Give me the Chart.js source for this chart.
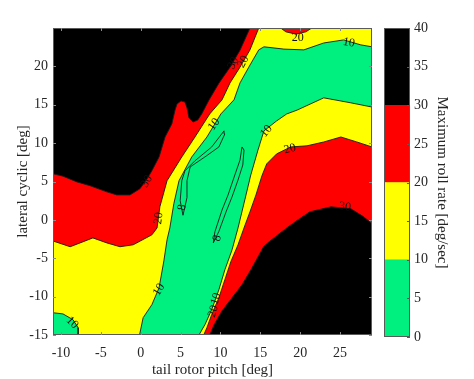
<!DOCTYPE html>
<html>
<head>
<meta charset="utf-8">
<script src="https://cdn.jsdelivr.net/npm/chart.js@4/dist/chart.umd.min.js"></script>
<style>
html, body { margin: 0; padding: 0; background: #fff; }
#wrap { position: relative; width: 474px; height: 379px; }
canvas { position: absolute; left: 0; top: 0; }
</style>
</head>
<body>
<div id="wrap">
  <canvas id="main" width="474" height="379"></canvas>
  <canvas id="cbar" width="474" height="379"></canvas>
</div>
<script>
// axis ticks
const xTicks = [-10, -5, 0, 5, 10, 15, 20, 25];
const yTicks = [-15, -10, -5, 0, 5, 10, 15, 20];
const cbTicks = [0, 5, 10, 15, 20, 25, 30, 35, 40];

// contour levels (deg/sec) and their fill colours
const levels = [0, 10, 20, 30, 40];
const levelColors = ['#00f080', '#ffff00', '#ff0000', '#000000'];

// contour lines, [tail rotor pitch, lateral cyclic]
const c30a = [[-11,6.0],[-9.75,5.7],[-8.0,4.95],[-6.35,4.45],[-4.25,3.65],[-3.0,3.25],[-1.35,3.25],[-0.1,4.05],[0.8,5.35],[1.4,6.4],[2.3,8.2],[3.05,10.8],[3.9,12.5],[4.3,14.3],[4.55,15.1],[5.05,15.5],[5.55,15.35],[5.8,14.6],[6.05,13.3],[6.55,12.75],[7.15,13.0],[7.65,13.8],[8.55,15.6],[9.8,17.8],[11.2,19.9],[12.45,22.1],[13.7,25]];
const c30b = [[29,-0.5],[27.95,0.4],[26.35,1.45],[23.85,1.7],[21.2,1.05],[19.7,0.0],[18.3,-1.05],[16.7,-2.35],[15.45,-3.4],[13.95,-6.25],[12.7,-8.45],[11.45,-10.15],[10.2,-11.85],[9.2,-13.65],[8.65,-15]];
const c20a = [[-11,-2.75],[-8.85,-3.5],[-7.6,-3.0],[-6.0,-2.35],[-4.25,-3.0],[-2.6,-3.5],[-0.95,-3.25],[1.4,-1.95],[2.05,-1.05],[2.4,1.7],[3.3,5.1],[5.15,8.2],[6.8,10.8],[8.65,13.8],[10.2,15.65],[11.2,17.85],[12.45,19.9],[13.7,22.15],[14.8,25]];
const c20c = [[17.55,25],[18.2,24.5],[19.45,24.2],[20.7,24.5],[21.45,25]];
const c20b = [[29,9.5],[27.1,10.15],[25.1,10.8],[22.95,10.15],[20.85,9.65],[18.8,9.5],[17.05,8.6],[15.8,7.3],[15.2,5.75],[14.45,3.25],[13.7,1.05],[12.95,-1.05],[12.2,-3.25],[11.3,-5.45],[10.55,-7.8],[9.8,-10.15],[8.9,-12.35],[8.3,-14.05],[7.9,-15]];
const c10a = [[-0.15,-15],[0.3,-12.75],[1.4,-11.05],[2.3,-8.85],[2.9,-5.35],[3.3,-2.6],[3.65,-1.05],[4.15,2.1],[4.8,5.1],[6.4,8.2],[8.3,10.8],[10.05,13.8],[11.7,15.65],[12.45,17.85],[13.55,19.9],[14.8,22.15],[15.45,22.55],[17.95,22.25],[20.45,22.15],[22.95,23.05],[25.45,23.45],[27.6,22.8],[29,22.55]];
const c10b = [[29,14.7],[26.35,15.25],[22.95,15.9],[19.6,14.3],[18.3,13.8],[17.05,12.9],[15.45,11.6],[14.7,9.1],[13.8,5.85],[13.05,2.6],[12.2,-1.05],[11.45,-3.9],[10.55,-6.5],[9.8,-9.1],[8.9,-11.7],[8.05,-13.65],[7.3,-15]];
const c10c = [[-11,-12.1],[-9.75,-12.25],[-8.5,-13.0],[-7.85,-14.05],[-7.85,-15]];
const loop8a = [[10.45,11.6],[8.9,9.5],[6.8,7.7],[5.55,6.4],[5.15,5.1],[4.95,2.5],[5.3,0.6],[5.8,2.9],[5.8,5.1],[6.2,6.9],[8.05,8.2],[9.8,9.5],[10.55,11.2],[10.45,11.6]];
const loop8b = [[12.7,9.5],[12.45,7.8],[11.8,5.85],[10.95,3.25],[10.2,1.3],[9.3,-1.55],[9.1,-3.0],[9.8,-1.5],[10.7,1.05],[11.45,3.0],[12.2,5.2],[12.8,7.15],[12.95,9.1],[12.7,9.5]];

// [text, x, y, rotation deg]
const contourLabels = [
  ['10', 26.1, 23.1, 10],
  ['20', 19.7, 23.75, 0],
  ['30', 11.6, 20.4, -62],
  ['20', 12.85, 20.6, -62],
  ['10', 9.2, 12.45, -55],
  ['20', 2.25, 0.2, -82],
  ['30', 0.75, 5.0, -60],
  ['8', 5.2, 1.6, -80],
  ['8', 9.6, -2.4, -75],
  ['10', 15.75, 11.55, -50],
  ['20', 18.7, 9.25, -15],
  ['30', 25.6, 1.7, 8],
  ['10', -8.6, -13.4, 45],
  ['10', 2.3, -9.1, -60],
  ['10', 9.45, -10.3, -72],
  ['20', 9.1, -11.9, -72]
];

const serif = "'Liberation Serif', 'Times New Roman', serif";
const xMin = -11, xMax = 29, yMin = -15, yMax = 25;

function toXY(pts) { return pts.map(p => ({ x: p[0], y: p[1] })); }

function areaSet(pts, color, order) {
  return {
    data: toXY(pts), backgroundColor: color, borderColor: 'rgba(0,0,0,0)',
    borderWidth: 1, pointRadius: 0, fill: 'shape', order: order, tension: 0
  };
}
function lineSet(pts, order) {
  return {
    data: toXY(pts), borderColor: '#1a1a1a', borderWidth: 0.9,
    pointRadius: 0, fill: false, order: order, tension: 0
  };
}

// filled areas: everything below a level, built from the contours
const redArea = [...c30a, [xMax, yMax], ...c30b, [xMin, yMin]];
const yellowArea = [...c20a, ...c20c, [xMax, yMax], ...c20b, [xMin, yMin]];
const greenArea = [...c10a, ...c10b];
const greenCorner = [...c10c, [xMin, yMin]];

const plotBg = {
  id: 'plotBg',
  beforeDatasetsDraw(chart) {
    const a = chart.chartArea, ctx = chart.ctx;
    ctx.save();
    ctx.fillStyle = levelColors[3];
    ctx.fillRect(a.left, a.top, a.right - a.left, a.bottom - a.top);
    ctx.restore();
  }
};

const labelsAndFrame = {
  id: 'labelsAndFrame',
  afterDatasetsDraw(chart) {
    const ctx = chart.ctx, xs = chart.scales.x, ys = chart.scales.y, a = chart.chartArea;
    ctx.save();
    ctx.beginPath();
    ctx.rect(a.left, a.top, a.right - a.left, a.bottom - a.top);
    ctx.clip();
    ctx.font = '12px ' + serif;
    ctx.fillStyle = '#111';
    ctx.textAlign = 'center';
    ctx.textBaseline = 'middle';
    contourLabels.forEach(l => {
      ctx.save();
      ctx.translate(xs.getPixelForValue(l[1]), ys.getPixelForValue(l[2]));
      ctx.rotate(l[3] * Math.PI / 180);
      ctx.fillText(l[0], 0, 0);
      ctx.restore();
    });
    ctx.restore();

    // axes box with inward ticks
    ctx.save();
    ctx.strokeStyle = '#5a5a5a';
    ctx.lineWidth = 1;
    ctx.strokeRect(a.left + 0.5, a.top + 0.5, a.right - a.left - 1, a.bottom - a.top - 1);
    ctx.strokeStyle = '#8a8a8a';
    ctx.beginPath();
    xTicks.forEach(v => {
      const px = Math.round(xs.getPixelForValue(v)) + 0.5;
      ctx.moveTo(px, a.bottom); ctx.lineTo(px, a.bottom - 3);
      ctx.moveTo(px, a.top); ctx.lineTo(px, a.top + 3);
    });
    yTicks.forEach(v => {
      const py = Math.round(ys.getPixelForValue(v)) + 0.5;
      ctx.moveTo(a.left, py); ctx.lineTo(a.left + 3, py);
      ctx.moveTo(a.right, py); ctx.lineTo(a.right - 3, py);
    });
    ctx.stroke();
    ctx.restore();
  }
};

new Chart(document.getElementById('main'), {
  type: 'line',
  data: {
    datasets: [
      areaSet(redArea, levelColors[2], 9),
      areaSet(yellowArea, levelColors[1], 8),
      areaSet(greenArea, levelColors[0], 7),
      areaSet(greenCorner, levelColors[0], 7),
      lineSet(c30a, 1), lineSet(c30b, 1),
      lineSet(c20a, 1), lineSet(c20b, 1), lineSet(c20c, 1),
      lineSet(c10a, 1), lineSet(c10b, 1), lineSet(c10c, 1),
      lineSet(loop8a, 1), lineSet(loop8b, 1)
    ]
  },
  options: {
    responsive: false,
    animation: false,
    layout: { padding: { left: 10, top: 28, right: 102, bottom: 0 } },
    plugins: { legend: { display: false }, tooltip: { enabled: false } },
    scales: {
      x: {
        type: 'linear', min: xMin, max: xMax,
        afterBuildTicks: s => { s.ticks = xTicks.map(v => ({ value: v })); },
        afterFit: s => { s.height = 44; },
        grid: { display: false, drawTicks: false },
        border: { display: false },
        ticks: { font: { family: serif, size: 14 }, color: '#262626', padding: 10, maxRotation: 0 },
        title: { display: true, text: 'tail rotor pitch [deg]', font: { family: serif, size: 15 }, color: '#262626', padding: { top: 0, bottom: 0 } }
      },
      y: {
        type: 'linear', min: yMin, max: yMax,
        afterBuildTicks: s => { s.ticks = yTicks.map(v => ({ value: v })); },
        afterFit: s => { s.width = 43; },
        grid: { display: false, drawTicks: false },
        border: { display: false },
        ticks: { font: { family: serif, size: 14 }, color: '#262626', padding: 5 },
        title: { display: true, text: 'lateral cyclic [deg]', font: { family: serif, size: 15 }, color: '#262626', padding: { top: 4, bottom: 0 } }
      }
    }
  },
  plugins: [plotBg, labelsAndFrame]
});

// colour bar
const cbFrame = {
  id: 'cbFrame',
  afterDatasetsDraw(chart) {
    const a = chart.chartArea, ctx = chart.ctx;
    ctx.save();
    ctx.strokeStyle = '#5a5a5a';
    ctx.lineWidth = 1;
    ctx.strokeRect(a.left + 0.5, a.top + 0.5, a.right - a.left - 1, a.bottom - a.top - 1);
    ctx.beginPath();
    cbTicks.forEach(v => {
      const py = Math.round(chart.scales.y.getPixelForValue(v)) + 0.5;
      ctx.moveTo(a.right, py); ctx.lineTo(a.right - 3, py);
    });
    ctx.stroke();
    ctx.restore();
  }
};

new Chart(document.getElementById('cbar'), {
  type: 'bar',
  data: {
    labels: ['roll rate'],
    datasets: levelColors.map((c, i) => ({
      data: [levels[i + 1] - levels[i]],
      backgroundColor: c,
      borderWidth: 0,
      barPercentage: 1,
      categoryPercentage: 1
    }))
  },
  options: {
    responsive: false,
    animation: false,
    layout: { padding: { left: 384, top: 28, right: 20, bottom: 42 } },
    plugins: { legend: { display: false }, tooltip: { enabled: false } },
    scales: {
      x: { stacked: true, display: false },
      y: {
        stacked: true, position: 'right', min: levels[0], max: levels[levels.length - 1],
        afterBuildTicks: s => { s.ticks = cbTicks.map(v => ({ value: v })); },
        afterFit: s => { s.width = 44; },
        grid: { display: false, drawTicks: false },
        border: { display: false },
        ticks: { font: { family: serif, size: 14 }, color: '#262626', padding: 4 },
        title: { display: true, text: 'Maximum roll rate [deg/sec]', font: { family: serif, size: 15 }, color: '#262626', padding: { top: 3, bottom: 0 } }
      }
    }
  },
  plugins: [cbFrame]
});
</script>
</body>
</html>
